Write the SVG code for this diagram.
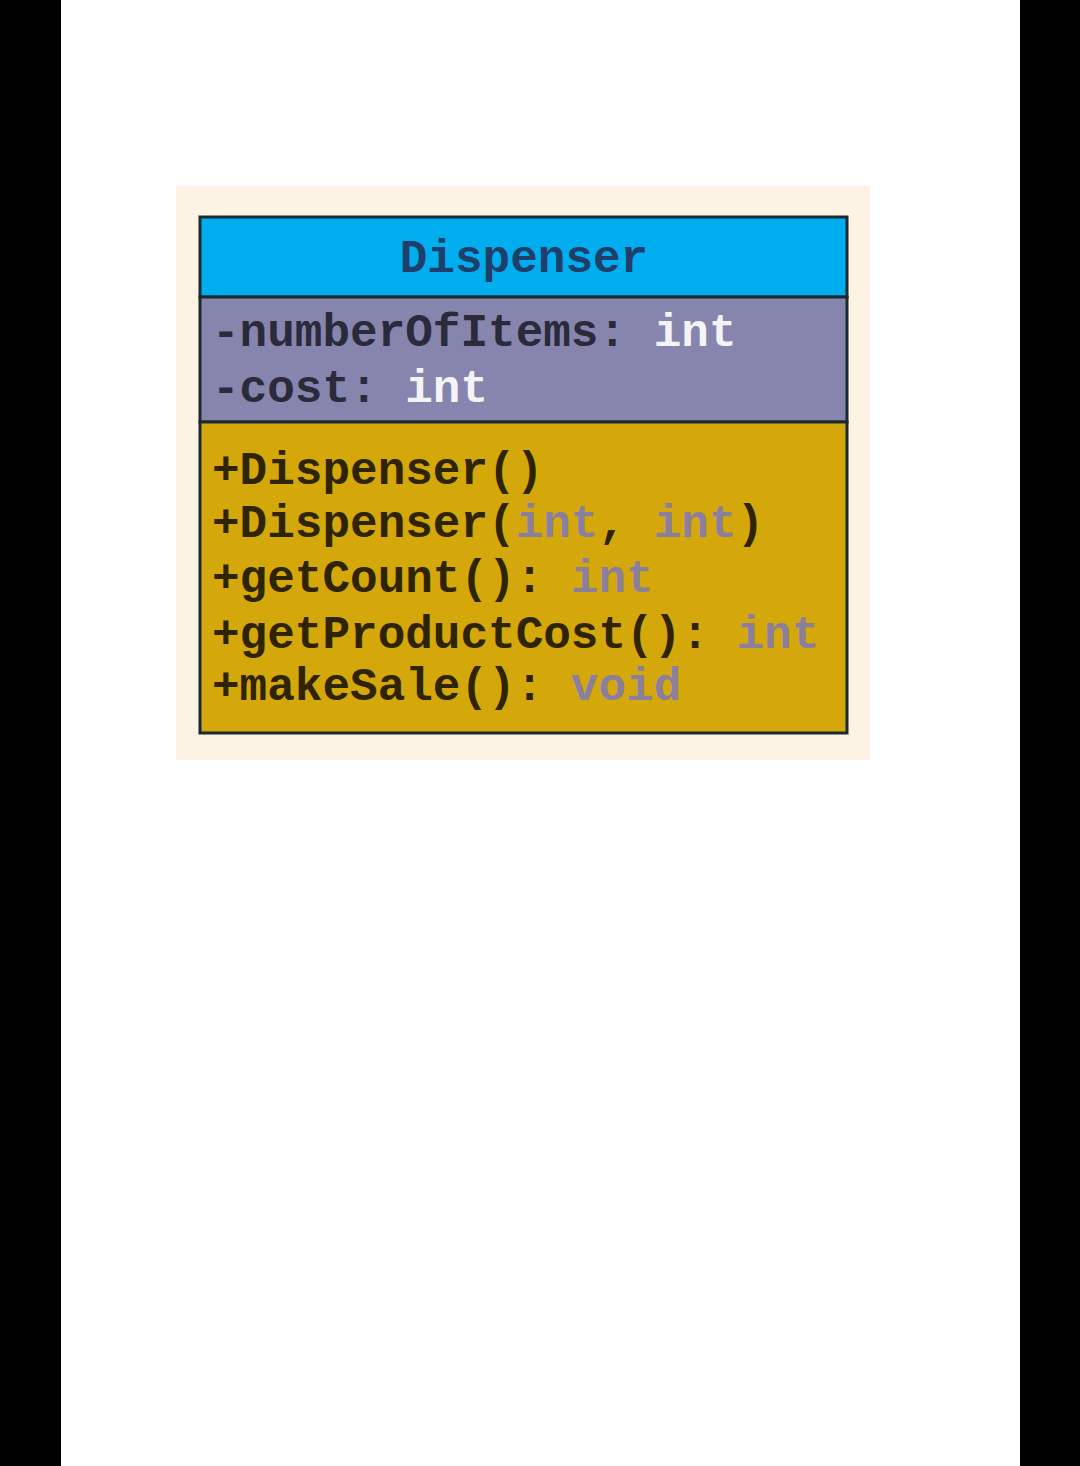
<svg xmlns="http://www.w3.org/2000/svg" width="1080" height="1466" viewBox="0 0 1080 1466">
<style>
.t{font-family:"Liberation Mono","Courier New",monospace;font-size:46px;font-weight:bold}
.d{fill:#2b2a3a}.m{fill:#2e2400}.w{fill:#f4f4f8}.p{fill:#8b7fa0}
</style>
<rect width="1080" height="1466" fill="#fff"/>
<rect x="0" y="0" width="61" height="1466" fill="#000"/>
<rect x="1020" y="0" width="60" height="1466" fill="#000"/>
<rect x="176" y="186" width="694" height="574" fill="#fdf3e4"/>
<g id="dispenser">
<rect x="200" y="217" width="647" height="80" fill="#00aeef" stroke="#1a2a33" stroke-width="3"/>
<rect x="200" y="297" width="647" height="125" fill="#8585ae" stroke="#1a2a33" stroke-width="3"/>
<rect x="200" y="422" width="647" height="311" fill="#d4a80a" stroke="#1a2a33" stroke-width="3"/>
<text class="t" x="524" y="272" text-anchor="middle" fill="#1f3f6a">Dispenser</text>
<text class="t d" x="212" y="346">-numberOfItems: <tspan class="w">int</tspan></text>
<text class="t d" x="212" y="402">-cost: <tspan class="w">int</tspan></text>
<text class="t m" x="212" y="484">+Dispenser()</text>
<text class="t m" x="212" y="537">+Dispenser(<tspan class="p">int</tspan>, <tspan class="p">int</tspan>)</text>
<text class="t m" x="212" y="592">+getCount(): <tspan class="p">int</tspan></text>
<text class="t m" x="212" y="648">+getProductCost(): <tspan class="p">int</tspan></text>
<text class="t m" x="212" y="700">+makeSale(): <tspan class="p">void</tspan></text>
</g>
<g id="connectors"/>
</svg>
